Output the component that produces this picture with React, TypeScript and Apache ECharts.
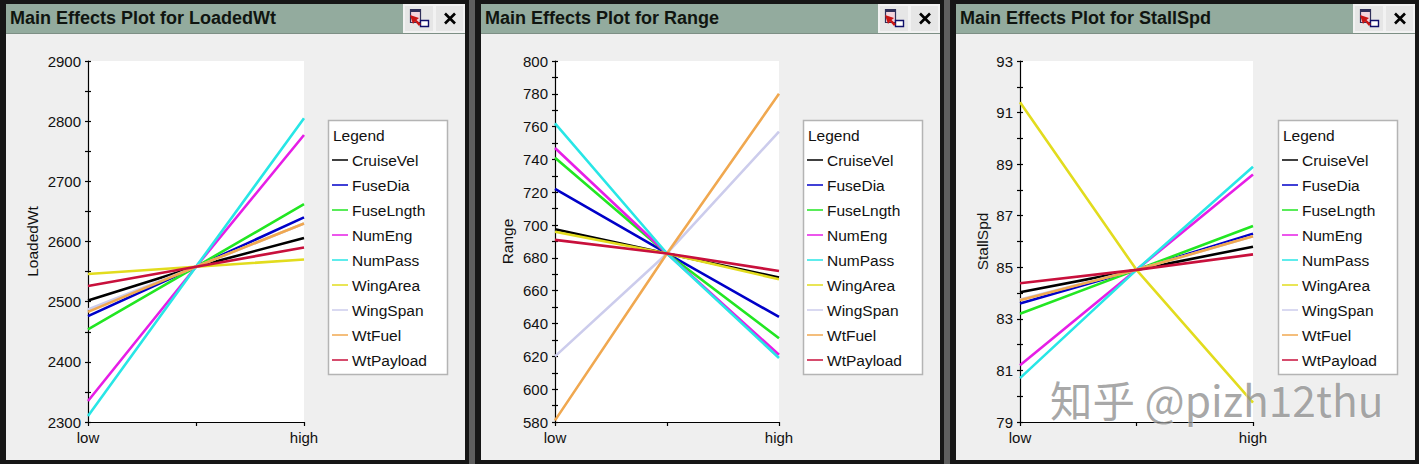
import React, { useEffect, useRef } from "react";
import * as echarts from "echarts";

const factors = ["CruiseVel", "FuseDia", "FuseLngth", "NumEng", "NumPass", "WingArea", "WingSpan", "WtFuel", "WtPayload"];
const colors = ["#000000", "#0000c8", "#22e622", "#e61ee6", "#28e6e6", "#e2dc1e", "#ccccec", "#f0a850", "#c8103c"];
const levels = ["low", "", "high"];

const loadedWtLow = [2502, 2476, 2454, 2335, 2310, 2546, 2487, 2483, 2526];
const loadedWtHigh = [2606, 2640, 2662, 2777, 2805, 2570, 2630, 2630, 2590];
const loadedWtMid = 2558;

const rangeLow = [697.5, 722, 741, 747, 762, 696, 620, 581, 691];
const rangeHigh = [668, 644, 631, 621, 619, 667, 757, 780, 672];
const rangeMid = 682.7;

const stallLow = [84.03, 83.6, 83.2, 81.2, 80.7, 91.4, 83.75, 83.72, 84.38];
const stallHigh = [85.8, 86.3, 86.6, 88.6, 88.9, 79.75, 86.2, 86.2, 85.5];
const stallMid = 84.9;

const FONT = "'Liberation Sans', Arial, sans-serif";

const panels = [
  { title: "Main Effects Plot for LoadedWt", name: "LoadedWt", low: loadedWtLow, high: loadedWtHigh, mid: loadedWtMid, min: 2300, max: 2900, interval: 100, minor: true, odd: false, x0: 0, left: 88, right: 304, gap: 48 },
  { title: "Main Effects Plot for Range", name: "Range", low: rangeLow, high: rangeHigh, mid: rangeMid, min: 580, max: 800, interval: 20, minor: true, odd: false, x0: 475, left: 555, right: 779, gap: 40 },
  { title: "Main Effects Plot for StallSpd", name: "StallSpd", low: stallLow, high: stallHigh, mid: stallMid, min: 79, max: 93, interval: 1, minor: false, odd: true, x0: 950, left: 1020, right: 1253, gap: 30 },
];

echarts.graphic.registerShape("restoreArrow", echarts.graphic.extendPath("M0 0L9 3L6.5 5L11 9L9 11L5 6.5L3 9Z", {}) as any);

function chrome(x0: number) {
  const r = (x: number, y: number, w: number, h: number, fill: string, extra: any = {}) => ({ type: "rect", z: -10, shape: { x: x0 + x, y, width: w, height: h }, style: { fill, ...extra }, silent: true });
  return [
    r(0, 0, 469, 464, "#161616"),
    r(6, 4, 459, 456, "#efefef"),
    r(6, 4, 459, 29, "#93ab9e"),
    r(6, 33, 459, 1, "#7d8f85"),
    r(403, 4, 62, 29, "#f2f2f2"),
    r(405, 6, 28, 25, "#e6e6e6"),
    r(436, 6, 27, 25, "#e6e6e6"),
    r(469, 0, 6, 464, "#5e5e5e"),
    r(410.5, 9.5, 10, 13, "#f4d4dc", { stroke: "#30305a", lineWidth: 1.2 }),
    r(410.5, 9.5, 10, 2.5, "#30305a"),
    r(420.5, 20.5, 8, 6, "#ffffff", { stroke: "#10106a", lineWidth: 1.4 }),
    { type: "restoreArrow", z: -9, x: x0 + 410, y: 15, style: { fill: "#c81414" }, silent: true },
    { type: "line", z: -9, shape: { x1: x0 + 445, y1: 13.5, x2: x0 + 455, y2: 23.5 }, style: { stroke: "#000", lineWidth: 2.6 }, silent: true },
    { type: "line", z: -9, shape: { x1: x0 + 455, y1: 13.5, x2: x0 + 445, y2: 23.5 }, style: { stroke: "#000", lineWidth: 2.6 }, silent: true },
  ];
}

export default function App() {
  const ref = useRef<HTMLDivElement>(null);
  useEffect(() => {
    document.body.style.margin = "0";
    const chart = echarts.init(ref.current!, null, { renderer: "svg" });
    const graphics: any[] = [];
    panels.forEach((p) => {
      graphics.push({ type: "group", children: chrome(p.x0) });
      graphics.push({ type: "rect", z: 1, shape: { x: p.x0 + 328.5, y: 120.5, width: 119, height: 254 }, style: { fill: "#fff", stroke: "#b4b4b4", lineWidth: 1.5 }, silent: true });
      graphics.push({ type: "text", z: 3, x: p.x0 + 333, y: 127, style: { text: "Legend", font: `15.5px ${FONT}`, fill: "#111" }, silent: true });
      graphics.push({ type: "text", z: 3, x: p.x0 + 10, y: 9, style: { text: p.title, font: `bold 18px ${FONT}`, fill: "#101510" }, silent: true });
    });
    graphics.push({ type: "text", z: 50, x: 1050, y: 377, style: { text: "知乎 @pizh12thu", font: `42.5px 'Noto Sans CJK SC', sans-serif`, fill: "rgba(140,140,140,0.75)", stroke: "rgba(255,255,255,0.5)", lineWidth: 1 }, silent: true });

    const grid = panels.map((p) => ({ left: p.left, width: p.right - p.left, top: 61, height: 361, show: true, backgroundColor: "#fff", borderWidth: 0, containLabel: false }));
    const tickStyle = { fontFamily: FONT, fontSize: 15, color: "#111" };
    const xAxis = panels.map((_, i) => ({
      type: "category", gridIndex: i, data: levels, boundaryGap: false,
      axisLine: { lineStyle: { color: "#000", width: 1.2 } },
      axisTick: { show: true, length: 4, lineStyle: { color: "#000", width: 1.2 }, alignWithLabel: true },
      axisLabel: { ...tickStyle, margin: 8, interval: 0, hideOverlap: false },
      splitLine: { show: false },
    }));
    const yAxis: any[] = panels.map((p, i) => ({
      type: "value", gridIndex: i, min: p.min, max: p.max, interval: p.interval,
      name: p.name, nameLocation: "middle", nameGap: p.gap, nameRotate: 90,
      nameTextStyle: { ...tickStyle, fontSize: 15.5 },
      axisLine: { show: true, onZero: false, lineStyle: { color: "#000", width: 1.2 } },
      axisTick: { show: true, length: 3, lineStyle: { color: "#000", width: 1.2 } },
      minorTick: { show: p.minor, splitNumber: 2, length: 3, lineStyle: { color: "#000", width: 1.2 } },
      splitLine: { show: false }, minorSplitLine: { show: false },
      axisLabel: { ...tickStyle, margin: 7, showMinLabel: true, showMaxLabel: true, formatter: (v: number) => (p.odd && Math.round(v) % 2 === 0 ? "" : String(v)) },
    }));
    // Same scale again, ticking inwards, so that the ticks straddle the axis line.
    panels.forEach((p, i) => {
      yAxis.push({
        type: "value", gridIndex: i, position: "left", min: p.min, max: p.max, interval: p.interval, z: 6,
        axisLine: { show: false }, axisLabel: { show: false }, splitLine: { show: false },
        axisTick: { show: true, inside: true, length: 3, lineStyle: { color: "#000", width: 1.2 } },
        minorTick: { show: p.minor, splitNumber: 2, length: 3, lineStyle: { color: "#000", width: 1.2 } },
      });
    });
    const series: any[] = [];
    panels.forEach((p, i) => {
      factors.forEach((f, k) => {
        series.push({
          type: "line", name: f, xAxisIndex: i, yAxisIndex: i, data: [p.low[k], p.mid, p.high[k]],
          showSymbol: false, symbol: "none", lineStyle: { color: colors[k], width: 2.6 }, itemStyle: { color: colors[k] }, z: 5 + k,
        });
      });
    });
    const legend = panels.map((p) => ({
      data: factors, orient: "vertical", left: p.x0 + 332, top: 152, itemWidth: 16, itemHeight: 1.5, itemGap: 9, padding: 0, icon: "rect",
      selectedMode: false, textStyle: { fontFamily: FONT, fontSize: 15.5, color: "#111", padding: [0, 0, 0, -1] }, z: 4,
    }));
    chart.setOption({ animation: false, backgroundColor: "#5e5e5e", graphic: { elements: graphics }, grid, xAxis, yAxis, series, legend, tooltip: { show: false } });
    return () => chart.dispose();
  }, []);
  return <div ref={ref} style={{ width: 1419, height: 464 }} />;
}
